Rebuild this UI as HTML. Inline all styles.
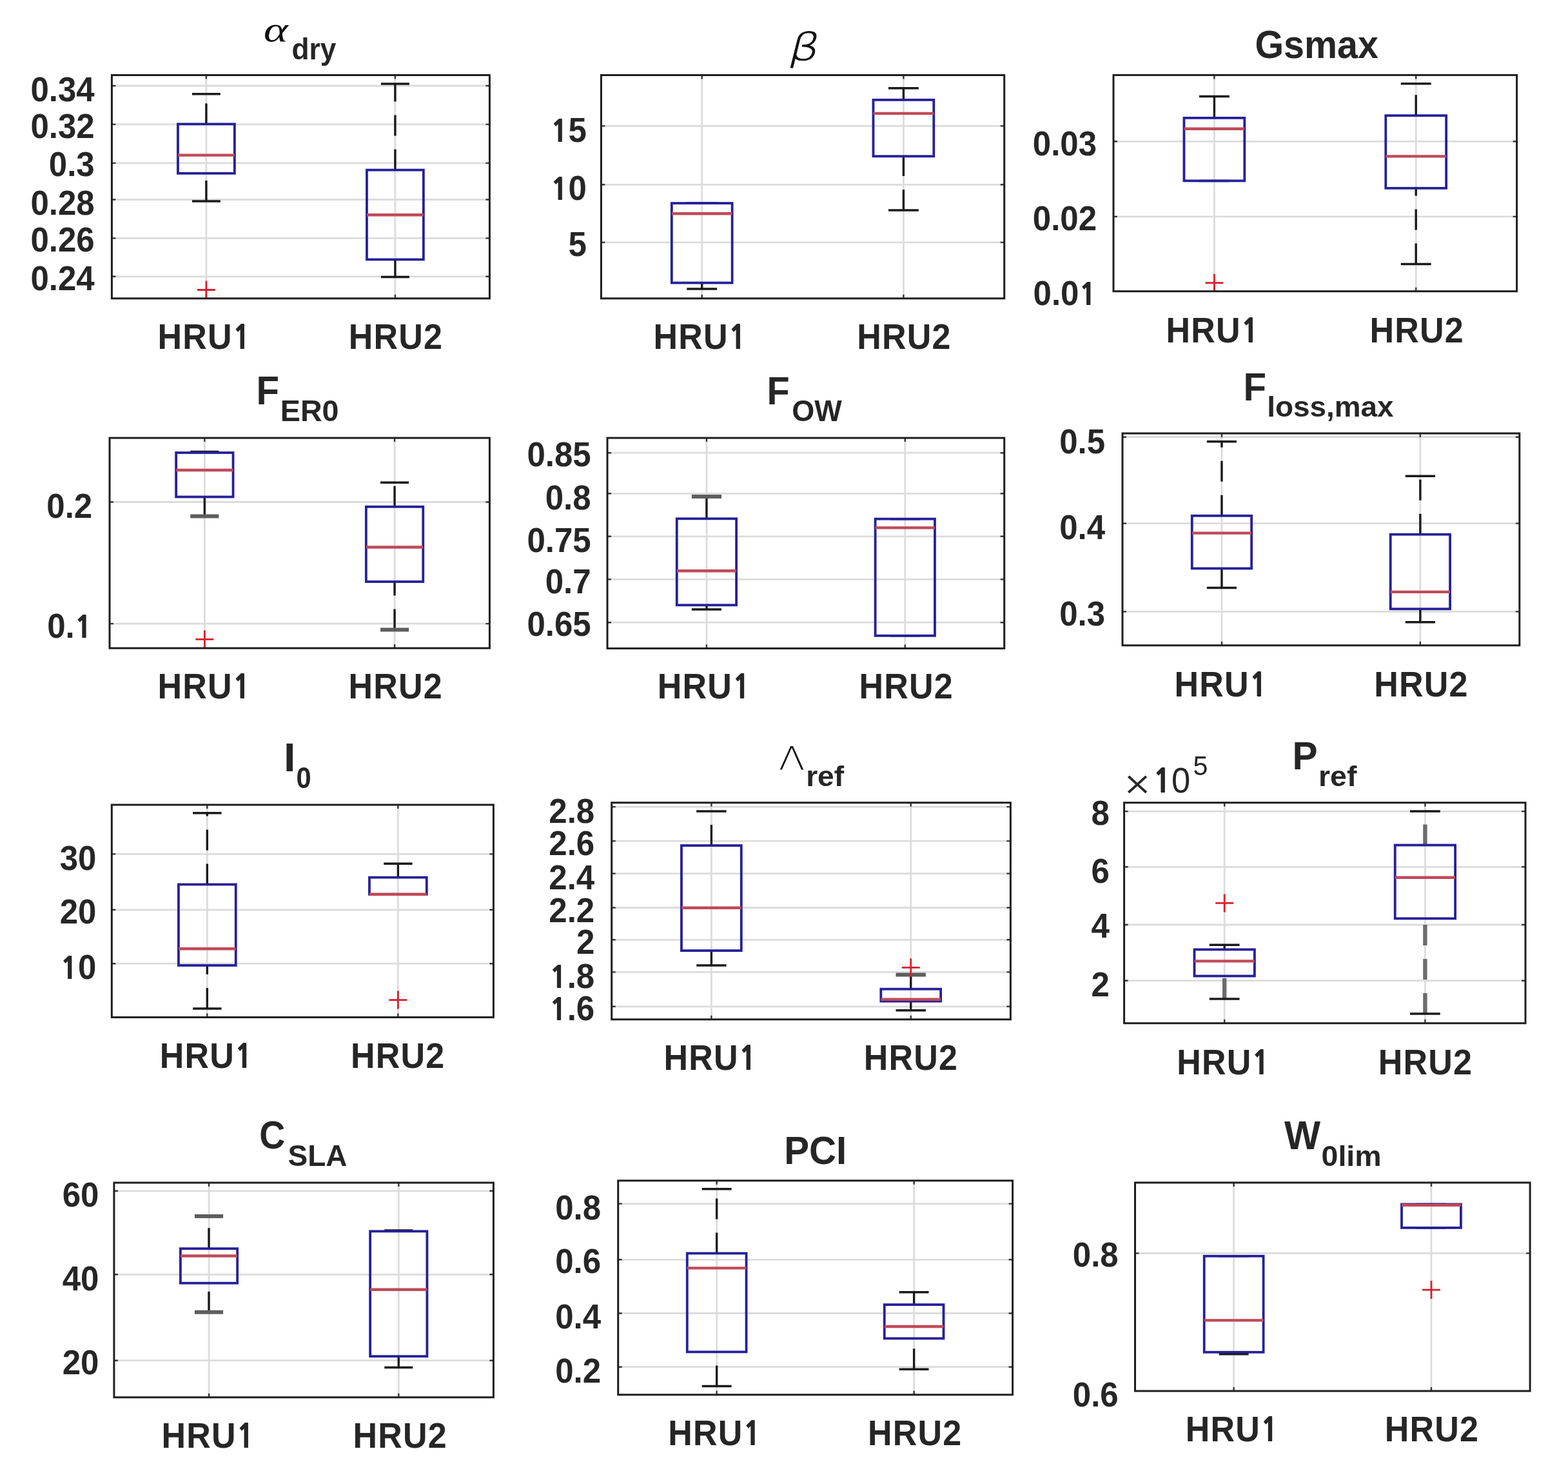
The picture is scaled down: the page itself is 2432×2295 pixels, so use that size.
<!DOCTYPE html>
<html><head><meta charset="utf-8"><title>Boxplots of calibrated parameters: HRU1 vs HRU2</title>
<style>
html,body{margin:0;padding:0;background:#fff;}
body{width:2432px;height:2295px;overflow:hidden;}
svg{display:block;}
text{fill:#262626;font-family:"Liberation Sans", Arial, Helvetica, sans-serif;font-weight:bold;font-kerning:none;}
text.sans{font-weight:normal;}
tspan.one{font-family:NanumGothic,"Liberation Sans",sans-serif;font-weight:800;font-size:0.892em;}
text.serifi{font-family:"Liberation Serif", "DejaVu Serif", serif;font-weight:normal;font-style:italic;fill:#111;}
text.djl,text.beta{font-family:"DejaVu Sans",sans-serif;font-weight:200;fill:#111;}
text.beta{stroke:#111;stroke-width:0.9px;}
text.xl{font-family:"DejaVu Sans",sans-serif;font-weight:200;fill:#262626;stroke:#262626;stroke-width:1.3px;}
.g{stroke:#dcdcdc;stroke-width:2.8;fill:none;}
.t{stroke:#3a3a3a;stroke-width:2.4;fill:none;}
.w{stroke:#1a1a1a;stroke-width:3.4;stroke-dasharray:32 21;fill:none;}
.c{stroke:#1a1a1a;stroke-width:3.5;fill:none;}
.wg{stroke:#6c6c6c;stroke-width:6.4px;}
.cg{stroke:#5e5e5e;stroke-width:6px;}
.b{stroke:#26209a;stroke-width:3.8;fill:none;}
.m{stroke:#c04a58;stroke-width:4.4;fill:none;}
.o{stroke:#d8202c;stroke-width:2.8;fill:none;}
.a{stroke:#1e1e1e;stroke-width:3.0;fill:none;}
</style></head>
<body>
<svg width="2432" height="2295" viewBox="0 0 2432 2295">
<rect width="2432" height="2295" fill="#fff"/>
<g>
<path class="g" d="M173.4 133H759.4M173.4 192.9H759.4M173.4 252.9H759.4M173.4 309.5H759.4M173.4 369.4H759.4M173.4 428.8H759.4M319.9 116.5V462.8M612.9 116.5V462.8"/>
<path class="t" d="M173.4 133h6M759.4 133h-6M173.4 192.9h6M759.4 192.9h-6M173.4 252.9h6M759.4 252.9h-6M173.4 309.5h6M759.4 309.5h-6M173.4 369.4h6M759.4 369.4h-6M173.4 428.8h6M759.4 428.8h-6M319.9 462.8v-6M319.9 116.5v6M612.9 462.8v-6M612.9 116.5v6"/>
<path class="w" d="M319.9 192.4V145.7"/>
<path class="w" d="M319.9 311.9V268.8"/>
<path class="c" d="M297.92 145.7h43.95"/>
<path class="c" d="M297.92 311.9h43.95"/>
<rect class="b" x="275.95" y="192.4" width="87.9" height="76.4"/>
<path class="m" d="M275.95 240.6h87.9"/>
<path class="o" d="M305.9 449.5h28M319.9 435.5v28"/>
<path class="w" d="M612.9 263.6V130"/>
<path class="w" d="M612.9 429.4V402.4"/>
<path class="c" d="M590.92 130h43.95"/>
<path class="c" d="M590.92 429.4h43.95"/>
<rect class="b" x="568.95" y="263.6" width="87.9" height="138.8"/>
<path class="m" d="M568.95 333.2h87.9"/>
<rect class="a" x="173.4" y="116.5" width="586" height="346.3"/>
<text transform="translate(47.48 157.05) scale(1 1.04)" font-size="51">0.34</text>
<text transform="translate(47.48 213.65) scale(1 1.04)" font-size="51">0.32</text>
<text transform="translate(75.85 273.15) scale(1 1.04)" font-size="51">0.3</text>
<text transform="translate(47.48 333.05) scale(1 1.04)" font-size="51">0.28</text>
<text transform="translate(47.48 390.15) scale(1 1.04)" font-size="51">0.26</text>
<text transform="translate(47.48 449.65) scale(1 1.04)" font-size="51">0.24</text>
<text transform="translate(244.57 540.7) scale(1 1.07)" font-size="52" letter-spacing="1.2">HRU<tspan class="one">1</tspan></text>
<text transform="translate(540.82 540.7) scale(1 1.07)" font-size="52" letter-spacing="1.2">HRU2</text>
</g>
<g>
<path class="g" d="M932.4 195.4H1557.7M932.4 286.3H1557.7M932.4 375.9H1557.7M1088.72 116.5V462.8M1401.38 116.5V462.8"/>
<path class="t" d="M932.4 195.4h6M1557.7 195.4h-6M932.4 286.3h6M1557.7 286.3h-6M932.4 375.9h6M1557.7 375.9h-6M1088.72 462.8v-6M1088.72 116.5v6M1401.38 462.8v-6M1401.38 116.5v6"/>
<path class="w" d="M1088.72 447.9V438.6"/>
<path class="c" d="M1065.28 315.1h46.9"/>
<path class="c" d="M1065.28 447.9h46.9"/>
<rect class="b" x="1041.83" y="315.1" width="93.8" height="123.5"/>
<path class="m" d="M1041.83 331.2h93.8"/>
<path class="w" d="M1401.38 154.9V136.8"/>
<path class="w" d="M1401.38 326V242.3"/>
<path class="c" d="M1377.93 136.8h46.9"/>
<path class="c" d="M1377.93 326h46.9"/>
<rect class="b" x="1354.48" y="154.9" width="93.8" height="87.4"/>
<path class="m" d="M1354.48 175.9h93.8"/>
<rect class="a" x="932.4" y="116.5" width="625.3" height="346.3"/>
<text transform="translate(854.01 220.05) scale(1 1.04)" font-size="51"><tspan class="one">1</tspan>5</text>
<text transform="translate(854.01 309.75) scale(1 1.04)" font-size="51"><tspan class="one">1</tspan>0</text>
<text transform="translate(881.58 397.05) scale(1 1.04)" font-size="51">5</text>
<text transform="translate(1013.42 540.7) scale(1 1.07)" font-size="52" letter-spacing="1.2">HRU<tspan class="one">1</tspan></text>
<text transform="translate(1329.22 540.7) scale(1 1.07)" font-size="52" letter-spacing="1.2">HRU2</text>
</g>
<g>
<path class="g" d="M1727 219.3H2352.6M1727 335.9H2352.6M1883.4 116.4V451.7M2196.2 116.4V451.7"/>
<path class="t" d="M1727 219.3h6M2352.6 219.3h-6M1727 335.9h6M2352.6 335.9h-6M1883.4 451.7v-6M1883.4 116.4v6M2196.2 451.7v-6M2196.2 116.4v6"/>
<path class="w" d="M1883.4 182.9V149.4"/>
<path class="c" d="M1859.94 149.4h46.92"/>
<path class="c" d="M1859.94 280.4h46.92"/>
<rect class="b" x="1836.48" y="182.9" width="93.84" height="97.5"/>
<path class="m" d="M1836.48 199.7h93.84"/>
<path class="o" d="M1869.4 438.7h28M1883.4 424.7v28"/>
<path class="w" d="M2196.2 179.2V129.8"/>
<path class="w" d="M2196.2 409.4V291.8"/>
<path class="c" d="M2172.74 129.8h46.92"/>
<path class="c" d="M2172.74 409.4h46.92"/>
<rect class="b" x="2149.28" y="179.2" width="93.84" height="112.6"/>
<path class="m" d="M2149.28 242.4h93.84"/>
<rect class="a" x="1727" y="116.4" width="625.6" height="335.3"/>
<text transform="translate(1601.78 240.75) scale(1 1.04)" font-size="51">0.03</text>
<text transform="translate(1601.78 356.95) scale(1 1.04)" font-size="51">0.02</text>
<text transform="translate(1602.58 473.45) scale(1 1.04)" font-size="51">0.0<tspan class="one">1</tspan></text>
<text transform="translate(1808.62 530.7) scale(1 1.07)" font-size="52" letter-spacing="1.2">HRU<tspan class="one">1</tspan></text>
<text transform="translate(2124.42 530.7) scale(1 1.07)" font-size="52" letter-spacing="1.2">HRU2</text>
</g>
<g>
<path class="g" d="M170 778.5H759.4M170 967.1H759.4M317.35 679.1V1005.1M612.05 679.1V1005.1"/>
<path class="t" d="M170 778.5h6M759.4 778.5h-6M170 967.1h6M759.4 967.1h-6M317.35 1005.1v-6M317.35 679.1v6M612.05 1005.1v-6M612.05 679.1v6"/>
<path class="w" d="M317.35 702V700.4"/>
<path class="w" d="M317.35 800.6V770.5"/>
<path class="c" d="M295.25 700.4h44.2"/>
<path class="c cg" d="M295.25 800.6h44.2"/>
<rect class="b" x="273.15" y="702" width="88.41" height="68.5"/>
<path class="m" d="M273.15 729h88.41"/>
<path class="o" d="M303.35 991.4h28M317.35 977.4v28"/>
<path class="w" d="M612.05 785.8V748.3"/>
<path class="w" d="M612.05 976.5V902"/>
<path class="c" d="M589.95 748.3h44.2"/>
<path class="c cg" d="M589.95 976.5h44.2"/>
<rect class="b" x="567.84" y="785.8" width="88.41" height="116.2"/>
<path class="m" d="M567.84 848.5h88.41"/>
<rect class="a" x="170" y="679.1" width="589.4" height="326"/>
<text transform="translate(72.35 802.55) scale(1 1.04)" font-size="51">0.2</text>
<text transform="translate(73.14 988.55) scale(1 1.04)" font-size="51">0.<tspan class="one">1</tspan></text>
<text transform="translate(244.62 1083.3) scale(1 1.07)" font-size="52" letter-spacing="1.2">HRU<tspan class="one">1</tspan></text>
<text transform="translate(540.42 1083.3) scale(1 1.07)" font-size="52" letter-spacing="1.2">HRU2</text>
</g>
<g>
<path class="g" d="M942 702.2H1557.7M942 765.3H1557.7M942 831.8H1557.7M942 898.4H1557.7M942 965.2H1557.7M1095.92 679.1V1005.5M1403.78 679.1V1005.5"/>
<path class="t" d="M942 702.2h6M1557.7 702.2h-6M942 765.3h6M1557.7 765.3h-6M942 831.8h6M1557.7 831.8h-6M942 898.4h6M1557.7 898.4h-6M942 965.2h6M1557.7 965.2h-6M1095.92 1005.5v-6M1095.92 679.1v6M1403.78 1005.5v-6M1403.78 679.1v6"/>
<path class="w" d="M1095.92 804.3V770"/>
<path class="w" d="M1095.92 945.1V938.3"/>
<path class="c cg" d="M1072.84 770h46.18"/>
<path class="c" d="M1072.84 945.1h46.18"/>
<rect class="b" x="1049.75" y="804.3" width="92.36" height="134"/>
<path class="m" d="M1049.75 885.2h92.36"/>
<path class="c" d="M1380.69 804.7h46.18"/>
<path class="c" d="M1380.69 985.8h46.18"/>
<rect class="b" x="1357.6" y="804.7" width="92.36" height="181.1"/>
<path class="m" d="M1357.6 818.4h92.36"/>
<rect class="a" x="942" y="679.1" width="615.7" height="326.4"/>
<text transform="translate(817.38 723.25) scale(1 1.04)" font-size="51">0.85</text>
<text transform="translate(845.75 789.85) scale(1 1.04)" font-size="51">0.8</text>
<text transform="translate(817.38 856.15) scale(1 1.04)" font-size="51">0.75</text>
<text transform="translate(845.75 919.55) scale(1 1.04)" font-size="51">0.7</text>
<text transform="translate(817.38 986.15) scale(1 1.04)" font-size="51">0.65</text>
<text transform="translate(1019.82 1083.3) scale(1 1.07)" font-size="52" letter-spacing="1.2">HRU<tspan class="one">1</tspan></text>
<text transform="translate(1332.42 1083.3) scale(1 1.07)" font-size="52" letter-spacing="1.2">HRU2</text>
</g>
<g>
<path class="g" d="M1741 677.7H2356.8M1741 811.6H2356.8M1741 948.4H2356.8M1894.95 672V1000.8M2202.85 672V1000.8"/>
<path class="t" d="M1741 677.7h6M2356.8 677.7h-6M1741 811.6h6M2356.8 811.6h-6M1741 948.4h6M2356.8 948.4h-6M1894.95 1000.8v-6M1894.95 672v6M2202.85 1000.8v-6M2202.85 672v6"/>
<path class="w" d="M1894.95 799.8V684.7"/>
<path class="w" d="M1894.95 911.6V881.5"/>
<path class="c" d="M1871.86 684.7h46.19"/>
<path class="c" d="M1871.86 911.6h46.19"/>
<rect class="b" x="1848.77" y="799.8" width="92.37" height="81.7"/>
<path class="m" d="M1848.77 826.6h92.37"/>
<path class="w" d="M2202.85 828.7V738.3"/>
<path class="w" d="M2202.85 964.8V944.3"/>
<path class="c" d="M2179.76 738.3h46.19"/>
<path class="c" d="M2179.76 964.8h46.19"/>
<rect class="b" x="2156.67" y="828.7" width="92.37" height="115.6"/>
<path class="m" d="M2156.67 917.9h92.37"/>
<rect class="a" x="1741" y="672" width="615.8" height="328.8"/>
<text transform="translate(1643.25 702.95) scale(1 1.04)" font-size="51">0.5</text>
<text transform="translate(1643.25 836.05) scale(1 1.04)" font-size="51">0.4</text>
<text transform="translate(1643.25 969.95) scale(1 1.04)" font-size="51">0.3</text>
<text transform="translate(1821.52 1080) scale(1 1.07)" font-size="52" letter-spacing="1.2">HRU<tspan class="one">1</tspan></text>
<text transform="translate(2131.22 1080) scale(1 1.07)" font-size="52" letter-spacing="1.2">HRU2</text>
</g>
<g>
<path class="g" d="M173.3 1324.4H765.4M173.3 1410.8H765.4M173.3 1494.2H765.4M321.32 1248V1577.5M617.38 1248V1577.5"/>
<path class="t" d="M173.3 1324.4h6M765.4 1324.4h-6M173.3 1410.8h6M765.4 1410.8h-6M173.3 1494.2h6M765.4 1494.2h-6M321.32 1577.5v-6M321.32 1248v6M617.38 1577.5v-6M617.38 1248v6"/>
<path class="w" d="M321.32 1371.5V1260.8"/>
<path class="w" d="M321.32 1563.9V1497"/>
<path class="c" d="M299.12 1260.8h44.41"/>
<path class="c" d="M299.12 1563.9h44.41"/>
<rect class="b" x="276.92" y="1371.5" width="88.81" height="125.5"/>
<path class="m" d="M276.92 1471.3h88.81"/>
<path class="w" d="M617.38 1360.6V1339.3"/>
<path class="c" d="M595.17 1339.3h44.41"/>
<path class="c" d="M595.17 1386.8h44.41"/>
<rect class="b" x="572.97" y="1360.6" width="88.81" height="26.2"/>
<path class="m" d="M572.97 1386.8h88.81"/>
<path class="o" d="M603.38 1550.6h28M617.38 1536.6v28"/>
<rect class="a" x="173.3" y="1248" width="592.1" height="329.5"/>
<text transform="translate(92.72 1348.85) scale(1 1.04)" font-size="51">30</text>
<text transform="translate(92.72 1431.85) scale(1 1.04)" font-size="51">20</text>
<text transform="translate(93.51 1518.25) scale(1 1.04)" font-size="51"><tspan class="one">1</tspan>0</text>
<text transform="translate(247.72 1655.9) scale(1 1.07)" font-size="52" letter-spacing="1.2">HRU<tspan class="one">1</tspan></text>
<text transform="translate(544.02 1655.9) scale(1 1.07)" font-size="52" letter-spacing="1.2">HRU2</text>
</g>
<g>
<path class="g" d="M948.7 1251.1H1567.4M948.7 1304.1H1567.4M948.7 1354.6H1567.4M948.7 1407.5H1567.4M948.7 1457.3H1567.4M948.7 1507.4H1567.4M948.7 1560.8H1567.4M1103.38 1244.7V1580.8M1412.73 1244.7V1580.8"/>
<path class="t" d="M948.7 1251.1h6M1567.4 1251.1h-6M948.7 1304.1h6M1567.4 1304.1h-6M948.7 1354.6h6M1567.4 1354.6h-6M948.7 1407.5h6M1567.4 1407.5h-6M948.7 1457.3h6M1567.4 1457.3h-6M948.7 1507.4h6M1567.4 1507.4h-6M948.7 1560.8h6M1567.4 1560.8h-6M1103.38 1580.8v-6M1103.38 1244.7v6M1412.73 1580.8v-6M1412.73 1244.7v6"/>
<path class="w" d="M1103.38 1311.1V1258"/>
<path class="w" d="M1103.38 1497V1474.1"/>
<path class="c" d="M1080.17 1258h46.4"/>
<path class="c" d="M1080.17 1497h46.4"/>
<rect class="b" x="1056.97" y="1311.1" width="92.81" height="163"/>
<path class="m" d="M1056.97 1407.7h92.81"/>
<path class="w" d="M1412.73 1533.7V1511.5"/>
<path class="w" d="M1412.73 1566.7V1552.6"/>
<path class="c cg" d="M1389.52 1511.5h46.4"/>
<path class="c" d="M1389.52 1566.7h46.4"/>
<rect class="b" x="1366.32" y="1533.7" width="92.81" height="18.9"/>
<path class="m" d="M1366.32 1549.8h92.81"/>
<path class="o" d="M1398.73 1500.3h28M1412.73 1486.3v28"/>
<rect class="a" x="948.7" y="1244.7" width="618.7" height="336.1"/>
<text transform="translate(851.35 1275.95) scale(1 1.04)" font-size="51">2.8</text>
<text transform="translate(851.35 1326.15) scale(1 1.04)" font-size="51">2.6</text>
<text transform="translate(851.35 1379.05) scale(1 1.04)" font-size="51">2.4</text>
<text transform="translate(851.35 1429.65) scale(1 1.04)" font-size="51">2.2</text>
<text transform="translate(893.88 1479.25) scale(1 1.04)" font-size="51">2</text>
<text transform="translate(852.14 1531.75) scale(1 1.04)" font-size="51"><tspan class="one">1</tspan>.8</text>
<text transform="translate(852.14 1581.55) scale(1 1.04)" font-size="51"><tspan class="one">1</tspan>.6</text>
<text transform="translate(1029.42 1659.2) scale(1 1.07)" font-size="52" letter-spacing="1.2">HRU<tspan class="one">1</tspan></text>
<text transform="translate(1339.72 1659.2) scale(1 1.07)" font-size="52" letter-spacing="1.2">HRU2</text>
</g>
<g>
<path class="g" d="M1743.6 1258.1H2366M1743.6 1344.3H2366M1743.6 1434H2366M1743.6 1520.7H2366M1899.2 1244.7V1586.7M2210.4 1244.7V1586.7"/>
<path class="t" d="M1743.6 1258.1h6M2366 1258.1h-6M1743.6 1344.3h6M2366 1344.3h-6M1743.6 1434h6M2366 1434h-6M1743.6 1520.7h6M2366 1520.7h-6M1899.2 1586.7v-6M1899.2 1244.7v6M2210.4 1586.7v-6M2210.4 1244.7v6"/>
<path class="w" d="M1899.2 1472.4V1465.3"/>
<path class="w wg" d="M1899.2 1549V1513.5"/>
<path class="c" d="M1875.86 1465.3h46.68"/>
<path class="c" d="M1875.86 1549h46.68"/>
<rect class="b" x="1852.52" y="1472.4" width="93.36" height="41.1"/>
<path class="m" d="M1852.52 1490.4h93.36"/>
<path class="o" d="M1885.2 1400.4h28M1899.2 1386.4v28"/>
<path class="w wg" d="M2210.4 1310.5V1258.1"/>
<path class="w wg" d="M2210.4 1572V1424.3"/>
<path class="c" d="M2187.06 1258.1h46.68"/>
<path class="c" d="M2187.06 1572h46.68"/>
<rect class="b" x="2163.72" y="1310.5" width="93.36" height="113.8"/>
<path class="m" d="M2163.72 1360.7h93.36"/>
<rect class="a" x="1743.6" y="1244.7" width="622.4" height="342"/>
<text transform="translate(1692.38 1279.25) scale(1 1.04)" font-size="51">8</text>
<text transform="translate(1692.38 1368.65) scale(1 1.04)" font-size="51">6</text>
<text transform="translate(1692.38 1454.25) scale(1 1.04)" font-size="51">4</text>
<text transform="translate(1692.38 1545.15) scale(1 1.04)" font-size="51">2</text>
<text transform="translate(1825.32 1665.9) scale(1 1.07)" font-size="52" letter-spacing="1.2">HRU<tspan class="one">1</tspan></text>
<text transform="translate(2137.72 1665.9) scale(1 1.07)" font-size="52" letter-spacing="1.2">HRU2</text>
</g>
<g>
<path class="g" d="M176.9 1846.8H765.4M176.9 1976.3H765.4M176.9 2109.7H765.4M324.02 1834V2166.8M618.27 1834V2166.8"/>
<path class="t" d="M176.9 1846.8h6M765.4 1846.8h-6M176.9 1976.3h6M765.4 1976.3h-6M176.9 2109.7h6M765.4 2109.7h-6M324.02 2166.8v-6M324.02 1834v6M618.27 2166.8v-6M618.27 1834v6"/>
<path class="w" d="M324.02 1936.2V1885.9"/>
<path class="w" d="M324.02 2034.8V1989.7"/>
<path class="c cg" d="M301.96 1885.9h44.14"/>
<path class="c cg" d="M301.96 2034.8h44.14"/>
<rect class="b" x="279.89" y="1936.2" width="88.27" height="53.5"/>
<path class="m" d="M279.89 1947.5h88.27"/>
<path class="w" d="M618.27 1909.3V1908"/>
<path class="w" d="M618.27 2120.5V2103.2"/>
<path class="c" d="M596.21 1908h44.14"/>
<path class="c" d="M596.21 2120.5h44.14"/>
<rect class="b" x="574.14" y="1909.3" width="88.27" height="193.9"/>
<path class="m" d="M574.14 1999.8h88.27"/>
<rect class="a" x="176.9" y="1834" width="588.5" height="332.8"/>
<text transform="translate(96.72 1870.65) scale(1 1.04)" font-size="51">60</text>
<text transform="translate(96.72 2000.75) scale(1 1.04)" font-size="51">40</text>
<text transform="translate(96.72 2130.75) scale(1 1.04)" font-size="51">20</text>
<text transform="translate(250.62 2245) scale(1 1.07)" font-size="52" letter-spacing="1.2">HRU<tspan class="one">1</tspan></text>
<text transform="translate(547.62 2245) scale(1 1.07)" font-size="52" letter-spacing="1.2">HRU2</text>
</g>
<g>
<path class="g" d="M958.7 1866.6H1570.6M958.7 1953.3H1570.6M958.7 2036.5H1570.6M958.7 2119.7H1570.6M1111.67 1830.8V2162.8M1417.62 1830.8V2162.8"/>
<path class="t" d="M958.7 1866.6h6M1570.6 1866.6h-6M958.7 1953.3h6M1570.6 1953.3h-6M958.7 2036.5h6M1570.6 2036.5h-6M958.7 2119.7h6M1570.6 2119.7h-6M1111.67 2162.8v-6M1111.67 1830.8v6M1417.62 2162.8v-6M1417.62 1830.8v6"/>
<path class="w" d="M1111.67 1943.5V1843.7"/>
<path class="w" d="M1111.67 2149.5V2096.4"/>
<path class="c" d="M1088.73 1843.7h45.89"/>
<path class="c" d="M1088.73 2149.5h45.89"/>
<rect class="b" x="1065.78" y="1943.5" width="91.78" height="152.9"/>
<path class="m" d="M1065.78 1966.4h91.78"/>
<path class="w" d="M1417.62 2023.1V2003.8"/>
<path class="w" d="M1417.62 2123.3V2075.5"/>
<path class="c" d="M1394.68 2003.8h45.89"/>
<path class="c" d="M1394.68 2123.3h45.89"/>
<rect class="b" x="1371.73" y="2023.1" width="91.78" height="52.4"/>
<path class="m" d="M1371.73 2057h91.78"/>
<rect class="a" x="958.7" y="1830.8" width="611.9" height="332"/>
<text transform="translate(861.25 1890.55) scale(1 1.04)" font-size="51">0.8</text>
<text transform="translate(861.25 1974.15) scale(1 1.04)" font-size="51">0.6</text>
<text transform="translate(861.25 2060.35) scale(1 1.04)" font-size="51">0.4</text>
<text transform="translate(861.25 2144.05) scale(1 1.04)" font-size="51">0.2</text>
<text transform="translate(1036.32 2241.2) scale(1 1.07)" font-size="52" letter-spacing="1.2">HRU<tspan class="one">1</tspan></text>
<text transform="translate(1346.02 2241.2) scale(1 1.07)" font-size="52" letter-spacing="1.2">HRU2</text>
</g>
<g>
<path class="g" d="M1760.5 1943.4H2373.1M1913.65 1833.9V2157M2219.95 1833.9V2157"/>
<path class="t" d="M1760.5 1943.4h6M2373.1 1943.4h-6M1913.65 2157v-6M1913.65 1833.9v6M2219.95 2157v-6M2219.95 1833.9v6"/>
<path class="w" d="M1913.65 2099.7V2096.8"/>
<path class="c" d="M1890.68 1947.8h45.94"/>
<path class="c" d="M1890.68 2099.7h45.94"/>
<rect class="b" x="1867.71" y="1947.8" width="91.89" height="149"/>
<path class="m" d="M1867.71 2047.4h91.89"/>
<path class="c" d="M2196.98 1867.4h45.94"/>
<path class="c" d="M2196.98 1903.9h45.94"/>
<rect class="b" x="2174" y="1867.4" width="91.89" height="36.5"/>
<path class="m" d="M2174 1868.7h91.89"/>
<path class="o" d="M2205.95 2000.1h28M2219.95 1986.1v28"/>
<rect class="a" x="1760.5" y="1833.9" width="612.6" height="323.1"/>
<text transform="translate(1663.85 1964.25) scale(1 1.04)" font-size="51">0.8</text>
<text transform="translate(1663.85 2180.75) scale(1 1.04)" font-size="51">0.6</text>
<text transform="translate(1838.72 2235) scale(1 1.07)" font-size="52" letter-spacing="1.2">HRU<tspan class="one">1</tspan></text>
<text transform="translate(2147.72 2235) scale(1 1.07)" font-size="52" letter-spacing="1.2">HRU2</text>
</g>
<text transform="translate(408.65 63.85) scale(1.3402 1)" font-size="53.95" class="serifi">&#945;</text>
<text transform="translate(452.38 91.62) scale(1 1.0314)" font-size="44.31">dry</text>
<text transform="translate(1220.75 92.53) skewX(-14) scale(1.2241 0.9747)" font-size="60" class="beta">&#946;</text>
<text transform="translate(1946.45 90.31) scale(1 1.0481)" font-size="57.41">Gsmax</text>
<text transform="translate(397.41 627.1) scale(1 1.0674)" font-size="58.15">F</text>
<text transform="translate(434.78 653.45) scale(1 0.9963)" font-size="46.64">ER0</text>
<text transform="translate(1189.55 627.1) scale(1 1.0758)" font-size="57.56">F</text>
<text transform="translate(1228.15 653.05) scale(1 1.0154)" font-size="45.07">OW</text>
<text transform="translate(1928.51 620.6) scale(1 1.0624)" font-size="58.15">F</text>
<text transform="translate(1965.2 646.45) scale(1 0.9638)" font-size="45.89">loss,max</text>
<text transform="translate(440.04 1196.2) scale(1 0.9378)" font-size="66.65">I</text>
<text transform="translate(459.55 1222.35) scale(1 1.1094)" font-size="41.63">0</text>
<text transform="translate(1208.02 1193.1) scale(1.1747 1)" font-size="50.07" class="djl">&#923;</text>
<text transform="translate(1250.16 1219.07) scale(1 0.9656)" font-size="46.11">ref</text>
<text transform="translate(2004.38 1192.8) scale(1 1.053)" font-size="58.67">P</text>
<text transform="translate(2045.04 1219.26) scale(1 0.9646)" font-size="46.44">ref</text>
<text transform="translate(1741.04 1231.55) scale(1 0.8879)" font-size="55.17" class="xl">&#215;</text>
<text transform="translate(1788.5 1228.86) scale(1 1.0535)" font-size="52.55" class="sans"><tspan class="one">1</tspan>0</text>
<text transform="translate(1850.44 1202.19) scale(1 1.0192)" font-size="41.34" class="sans">5</text>
<text transform="translate(402.23 1781.11) scale(1 1.0867)" font-size="55.37">C</text>
<text transform="translate(446.58 1808.24) scale(1 1.014)" font-size="45.97">SLA</text>
<text transform="translate(1216.2 1804.61) scale(1 1.0379)" font-size="58.24">PCI</text>
<text transform="translate(1992.04 1781.8) scale(1 1.0439)" font-size="59.45">W</text>
<text transform="translate(2049.56 1807.97) scale(1 0.948)" font-size="46.54">0lim</text>
</svg>
</body></html>
